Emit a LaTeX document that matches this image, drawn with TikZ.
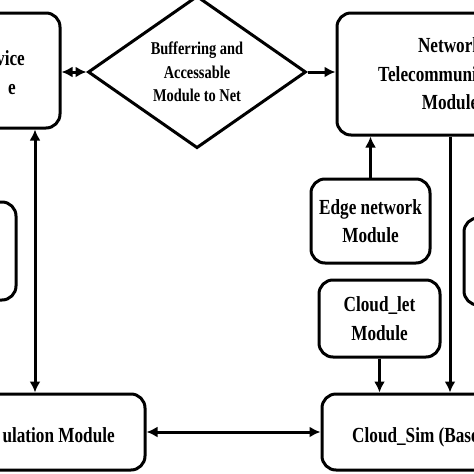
\documentclass[tikz,border=0pt]{standalone}
\usepackage{fontspec}
\setmainfont[FakeStretch=0.8]{Liberation Serif}
\usepackage{tikz}
\usetikzlibrary{arrows.meta,calc,positioning,shapes.geometric}

\tikzset{
  box/.style={draw,line width=3pt,rounded corners=14pt,inner sep=0pt,align=center,
    font=\bfseries\fontsize{21.5}{28.5}\selectfont},
  lbl/.style={inner sep=0pt,font=\bfseries\fontsize{21.5}{28.5}\selectfont},
  dec/.style={draw,shape=diamond,line width=3pt,inner sep=0pt,align=center,
    minimum width=218pt,minimum height=142pt,font=\bfseries\fontsize{18}{23.5}\selectfont},
  link/.style={line width=3pt,-{Latex[length=11pt,width=11pt]}},
  dlink/.style={line width=3pt,{Latex[length=11pt,width=11pt]}-{Latex[length=11pt,width=11pt]}}
}

\begin{document}
\begin{tikzpicture}[x=1pt,y=-1pt]
  \useasboundingbox (0,0) rectangle (474,474);
  \clip (0,0) rectangle (474,474);
  % boxes
  \node[box,minimum width=120pt,minimum height=115pt] (dev) at (0,70.5) {};
  \node[lbl,anchor=base east] (deva) at (25,65) {vice};
  \node[lbl,anchor=base east] (devb) at (16,94) {e};
  \node[box,minimum width=96pt,minimum height=98pt] (side) at (-32,251) {};
  \node[dec] (buf) at (197,72) {Bufferring and\\Accessable\\Module to Net};
  \node[box,minimum width=226pt,minimum height=122pt] (net) at (450,74)
    {Network\\Telecommunication\\Module};
  \node[box,minimum width=119pt,minimum height=84pt] (edge) at (370.5,221)
    {Edge network\\Module};
  \node[box,minimum width=121pt,minimum height=77pt] (clet) at (379.5,318.5)
    {Cloud\_let\\Module};
  \node[box,minimum width=96pt,minimum height=87pt] (rbox) at (512,261.5) {};
  \node[box,minimum width=265pt,minimum height=76pt] (sim) at (12.5,432) {};
  \node[lbl,anchor=base east] (simt) at (115,442) {ulation Module};
  \node[box,minimum width=278pt,minimum height=76pt] (csim) at (461,432) {};
  \node[lbl,anchor=base west] (csimt) at (352,442) {Cloud\_Sim (Based};
  % connectors
  \coordinate (vx) at (35,0);
  \draw[dlink] (buf.west -| dev.east) -- (buf.west);
  \draw[link] (buf.east) -- (buf.east -| net.west);
  \draw[dlink] (dev.south -| vx) -- (sim.north -| vx);
  \draw[dlink] (sim.east) -- (csim.west);
  \draw[link] (edge.north) -- (edge.north |- net.south);
  \draw[link] (clet.south) -- (clet.south |- csim.north);
  \draw[link] (net.south) -- (net.south |- csim.north);
\end{tikzpicture}
\end{document}
